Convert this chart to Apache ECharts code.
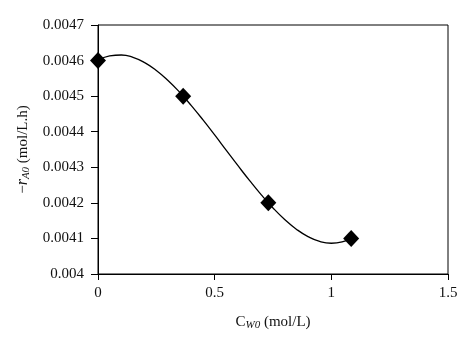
<!DOCTYPE html>
<html>
<head>
<meta charset="utf-8">
<script src="https://cdn.jsdelivr.net/npm/echarts@6/dist/echarts.min.js"></script>
<style>
  html, body { margin: 0; padding: 0; background: #fff; }
  #chart { width: 474px; height: 347px; }
</style>
</head>
<body>
<div id="chart"></div>
<script>
// Measured initial rates against initial water concentration
const cW0 = [0, 0.365, 0.73, 1.085];
const rateA0 = [0.0046, 0.0045, 0.0042, 0.0041];

// Smooth trend curve through the measurements
const curveX = [0, 0.05, 0.1, 0.15, 0.2, 0.25, 0.3, 0.35, 0.4, 0.45, 0.5, 0.55,
                0.6, 0.65, 0.7, 0.75, 0.8, 0.85, 0.9, 0.95, 1.0, 1.05, 1.085];
const curveY = [0.0046, 0.004613, 0.0046156, 0.004609, 0.0045942, 0.0045722,
                0.004544, 0.0045108, 0.0044735, 0.0044332, 0.0043909, 0.0043476,
                0.0043044, 0.0042623, 0.0042224, 0.0041857, 0.0041533, 0.004126,
                0.0041052, 0.0040916, 0.0040865, 0.0040907, 0.0041];

const xTicks = { min: 0, max: 1.5, interval: 0.5 };
const yTicks = { min: 0.004, max: 0.0047, interval: 0.0001 };

const serif = 'Liberation Serif';
const ink = '#111';
const chart = echarts.init(document.getElementById('chart'), null, { renderer: 'canvas' });

chart.setOption({
  animation: false,
  backgroundColor: '#fff',
  grid: {
    left: 98, right: 26, top: 25, bottom: 73,
    show: true, borderColor: '#000', borderWidth: 1
  },
  xAxis: {
    type: 'value',
    min: xTicks.min, max: xTicks.max, interval: xTicks.interval,
    axisLine: { show: true, lineStyle: { color: '#000', width: 1 } },
    axisTick: { show: true, inside: false, length: 6, lineStyle: { color: '#000' } },
    splitLine: { show: false },
    axisLabel: { color: ink, fontFamily: serif, fontSize: 15, margin: 12 },
    name: 'C{sub|W0} (mol/L)',
    nameLocation: 'middle',
    nameGap: 39,
    nameTextStyle: {
      color: ink, fontFamily: serif, fontSize: 15,
      rich: {
        sub: { fontFamily: serif, fontStyle: 'italic', fontSize: 11, color: ink, verticalAlign: 'bottom', padding: [7, 0, 0, 0] }
      }
    }
  },
  yAxis: {
    type: 'value',
    min: yTicks.min, max: yTicks.max, interval: yTicks.interval,
    axisLine: { show: true, lineStyle: { color: '#000', width: 1 } },
    axisTick: { show: true, inside: false, length: 7, lineStyle: { color: '#000' } },
    splitLine: { show: false },
    axisLabel: {
      color: ink, fontFamily: serif, fontSize: 15, margin: 14,
      formatter: v => String(parseFloat(v.toFixed(4)))
    },
    name: '−{i|r}{sub|A0} (mol/L.h)',
    nameLocation: 'middle',
    nameRotate: 90,
    nameGap: 62,
    nameTextStyle: {
      color: ink, fontFamily: serif, fontSize: 15,
      rich: {
        i: { fontFamily: serif, fontStyle: 'italic', fontSize: 16, color: ink },
        sub: { fontFamily: serif, fontStyle: 'italic', fontSize: 11, color: ink, verticalAlign: 'bottom', padding: [7, 0, 0, 0] }
      }
    }
  },
  series: [
    {
      type: 'line',
      data: curveX.map((x, i) => [x, curveY[i]]),
      smooth: true,
      showSymbol: false,
      lineStyle: { color: '#000', width: 1.3 },
      z: 2
    },
    {
      type: 'scatter',
      data: cW0.map((x, i) => [x, rateA0[i]]),
      symbol: 'diamond',
      symbolSize: [16, 17],
      itemStyle: { color: '#000', opacity: 1 },
      z: 3
    }
  ]
});
</script>
</body>
</html>
